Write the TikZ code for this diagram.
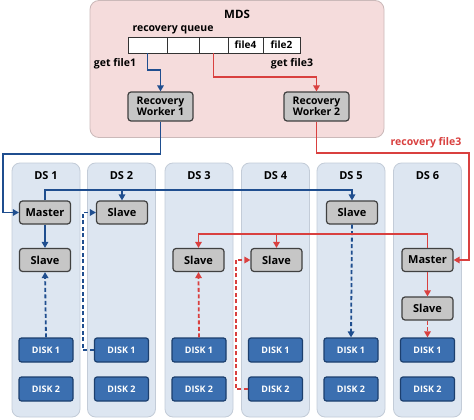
\documentclass[tikz,border=0pt]{standalone}
\usepackage{fontspec}
\setmainfont{Open Sans}
\usetikzlibrary{arrows.meta}
\definecolor{lineblue}{HTML}{1F4E8F}
\definecolor{linered}{HTML}{D9403F}
\definecolor{colfill}{HTML}{DDE6F1}
\definecolor{colbord}{HTML}{C3CCD8}
\definecolor{mdsfill}{HTML}{F5DCDC}
\definecolor{mdsbord}{HTML}{CBB9B9}
\definecolor{diskfill}{HTML}{3B6FB0}
\definecolor{diskbord}{HTML}{1C3F6E}
\definecolor{boxfill}{HTML}{C6C6C6}
\begin{document}
\begin{tikzpicture}[x=1pt,y=-1pt,
  mdsbox/.style={draw=mdsbord,fill=mdsfill,rounded corners=9pt,line width=0.8pt,minimum width=294pt,minimum height=137pt,inner sep=0},
  colbox/.style={draw=colbord,fill=colfill,rounded corners=8pt,line width=0.8pt,minimum width=68pt,minimum height=254pt,inner sep=0},
  procbox/.style={draw=black!75,fill=boxfill,rounded corners=3pt,line width=1.2pt,minimum width=51pt,minimum height=23pt,inner sep=0,font=\bfseries\fontsize{11}{12}\selectfont},
  workbox/.style={procbox,minimum width=65pt,minimum height=29pt,align=center,font=\bfseries\fontsize{10.5}{11}\selectfont},
  diskbox/.style={draw=diskbord,fill=diskfill,rounded corners=2.5pt,line width=1.2pt,minimum width=54pt,minimum height=24pt,inner sep=0,text=white,font=\bfseries\fontsize{9}{10}\selectfont},
  cell/.style={draw=black!80,fill=white,line width=0.8pt,minimum height=16pt,inner sep=0,font=\bfseries\fontsize{10}{11}\selectfont},
  lbl/.style={font=\bfseries\fontsize{10.5}{12}\selectfont,inner sep=0},
  bl/.style={draw=lineblue,line width=1.8pt,-{Triangle[length=6pt,width=6.5pt]}},
  rd/.style={draw=linered,line width=1.8pt,-{Triangle[length=6pt,width=6.5pt]}},
  dsh/.style={dash pattern=on 4pt off 2.5pt}
]
\useasboundingbox (0,0) rectangle (474,420);
\fill[white] (0,0) rectangle (474,420);
% MDS
\node[mdsbox] (mds) at (237,69) {};
\node[lbl,font=\bfseries\fontsize{11.5}{13}\selectfont] (mdst) at (237,14) {MDS};
\node[lbl] (rq) at (173,30) {recovery queue};
\node[cell,minimum width=39pt] (q1) at (147.5,45) {};
\node[cell,minimum width=32pt] (q2) at (183,45) {};
\node[cell,minimum width=29pt] (q3) at (213.5,45) {};
\node[cell,minimum width=35pt] (q4) at (245.5,45) {file4};
\node[cell,minimum width=37pt] (q5) at (281.5,45) {file2};
\node[lbl] (gf1) at (115,64) {get file1};
\node[lbl] (gf3) at (292,64) {get file3};
\node[workbox] (w1) at (160.5,106.5) {Recovery\\Worker 1};
\node[workbox] (w2) at (316.5,106.5) {Recovery\\Worker 2};
\node[lbl,text=linered] (rf3) at (426,143) {recovery file3};
% DS columns
\foreach \i/\x in {1/46,2/121.5,3/199,4/275.5,5/351,6/427.5}{
  \node[colbox] (ds\i) at (\x,290) {};
  \node[lbl,font=\bfseries\fontsize{11}{12}\selectfont] (dst\i) at (\x,176) {DS \i};
  \node[diskbox] (d\i1) at (\x,350) {DISK 1};
  \node[diskbox] (d\i2) at (\x,389) {DISK 2};
}
\node[procbox] (m1) at (45,212.5) {Master};
\node[procbox] (s2) at (122,212.5) {Slave};
\node[procbox] (s5) at (352,212.5) {Slave};
\node[procbox] (s1) at (45,260) {Slave};
\node[procbox] (s3) at (198.5,260) {Slave};
\node[procbox] (s4) at (276.5,260) {Slave};
\node[procbox] (m6) at (427.5,260) {Master};
\node[procbox] (s6) at (427.5,308.5) {Slave};
% coordinates
\coordinate (lb) at (3,154);
\coordinate (rb) at (469,153);
\coordinate (bj) at (45,190);
\coordinate (rj) at (427,234);
\coordinate (k2) at (83,350);
\coordinate (k4) at (236,389);
% queue to workers
\draw[bl] (q1.south) -- ++(0,17) -| (w1.north);
\draw[rd] (q3.south) -- ++(0,24) -| (w2.north);
% workers to masters
\draw[bl] (w1.south) |- (lb) |- (m1.west);
\draw[rd] (w2.south) |- (rb) |- (m6.east);
% blue replication
\draw[bl] (m1.north) -- (m1.north |- bj) -| (s5.north);
\draw[bl] (s2.north |- bj) -- (s2.north);
\draw[bl] (m1.south) -- (s1.north);
\draw[bl,dsh] (d11.north) -- (s1.south);
\draw[bl,dsh] (d21.west) -- (k2) |- (s2.west);
\draw[bl,dsh] (s5.south) -- (d51.north);
% red replication
\draw[rd] (m6.north) -- (m6.north |- rj) -| (s3.north);
\draw[rd] (s4.north |- rj) -- (s4.north);
\draw[rd] (m6.south) -- (s6.north);
\draw[rd,dsh] (s6.south) -- (d61.north);
\draw[rd,dsh] (d31.north) -- (s3.south);
\draw[rd,dsh] (d42.west) -- (k4) |- (s4.west);
\end{tikzpicture}
\end{document}
